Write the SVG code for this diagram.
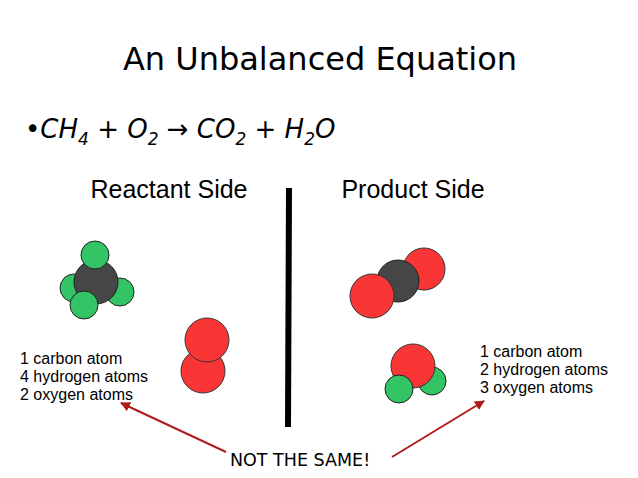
<svg xmlns="http://www.w3.org/2000/svg" width="638" height="478" viewBox="0 0 638 478">
<style>
.c{fill:#464646;stroke:#222;stroke-width:1}
.h{fill:#33c466;stroke:#222;stroke-width:1}
.o{fill:#fa3535;stroke:#333;stroke-width:1}
.comic{font-family:"Comic Sans MS","DejaVu Sans",sans-serif;fill:#000}
.s{font-family:"Liberation Sans",Arial,sans-serif;fill:#000}
.a{stroke:#b01c1c;stroke-width:2;fill:none}
</style>
<defs><marker id="ah" viewBox="0 0 10 10" refX="9" refY="5" markerWidth="5" markerHeight="5" orient="auto"><path d="M0,0L10,5L0,10z" fill="#b01c1c"/></marker></defs>
<rect width="638" height="478" fill="#fff"/>
<text class="comic" x="320" y="70" font-size="32" text-anchor="middle">An Unbalanced Equation</text>
<text class="comic" x="25" y="138" font-size="26" font-style="italic">•CH<tspan font-size="17" dy="7">4</tspan><tspan dy="-7"> + O</tspan><tspan font-size="17" dy="7">2</tspan><tspan dy="-7"> → CO</tspan><tspan font-size="17" dy="7">2</tspan><tspan dy="-7"> + H</tspan><tspan font-size="17" dy="7">2</tspan><tspan dy="-7">O</tspan></text>
<text class="s" x="169" y="198" font-size="25" text-anchor="middle">Reactant Side</text>
<text class="s" x="413" y="198" font-size="25" text-anchor="middle">Product Side</text>
<line x1="289" y1="188" x2="288" y2="427" stroke="#000" stroke-width="6"/>
<g id="methane"><circle class="h" cx="74" cy="288" r="14"/><circle class="h" cx="120" cy="292" r="14"/><circle class="c" cx="96" cy="282" r="22"/><circle class="h" cx="95" cy="255" r="14"/><circle class="h" cx="84" cy="305" r="14"/></g>
<g id="oxygen"><circle class="o" cx="203" cy="371" r="22"/><circle class="o" cx="207" cy="340" r="22"/></g>
<g id="co2"><circle class="o" cx="424" cy="269" r="21"/><circle class="c" cx="398" cy="281" r="21"/><circle class="o" cx="372" cy="296" r="22"/></g>
<g id="water"><circle class="h" cx="432" cy="381" r="14"/><circle class="o" cx="413" cy="366" r="22"/><circle class="h" cx="399" cy="389" r="14"/></g>
<g id="reactant-count" class="s" font-size="16"><text x="20" y="364">1 carbon atom</text><text x="20" y="382">4 hydrogen atoms</text><text x="20" y="400">2 oxygen atoms</text></g>
<g id="product-count" class="s" font-size="16"><text x="480" y="357">1 carbon atom</text><text x="480" y="375">2 hydrogen atoms</text><text x="480" y="393">3 oxygen atoms</text></g>
<text id="note" class="comic" x="230" y="466" font-size="17.5">NOT THE SAME!</text>
<g id="connectors"><line class="a" x1="226" y1="452" x2="121" y2="403" marker-end="url(#ah)"/><line class="a" x1="392" y1="457" x2="484" y2="401" marker-end="url(#ah)"/></g>
</svg>
